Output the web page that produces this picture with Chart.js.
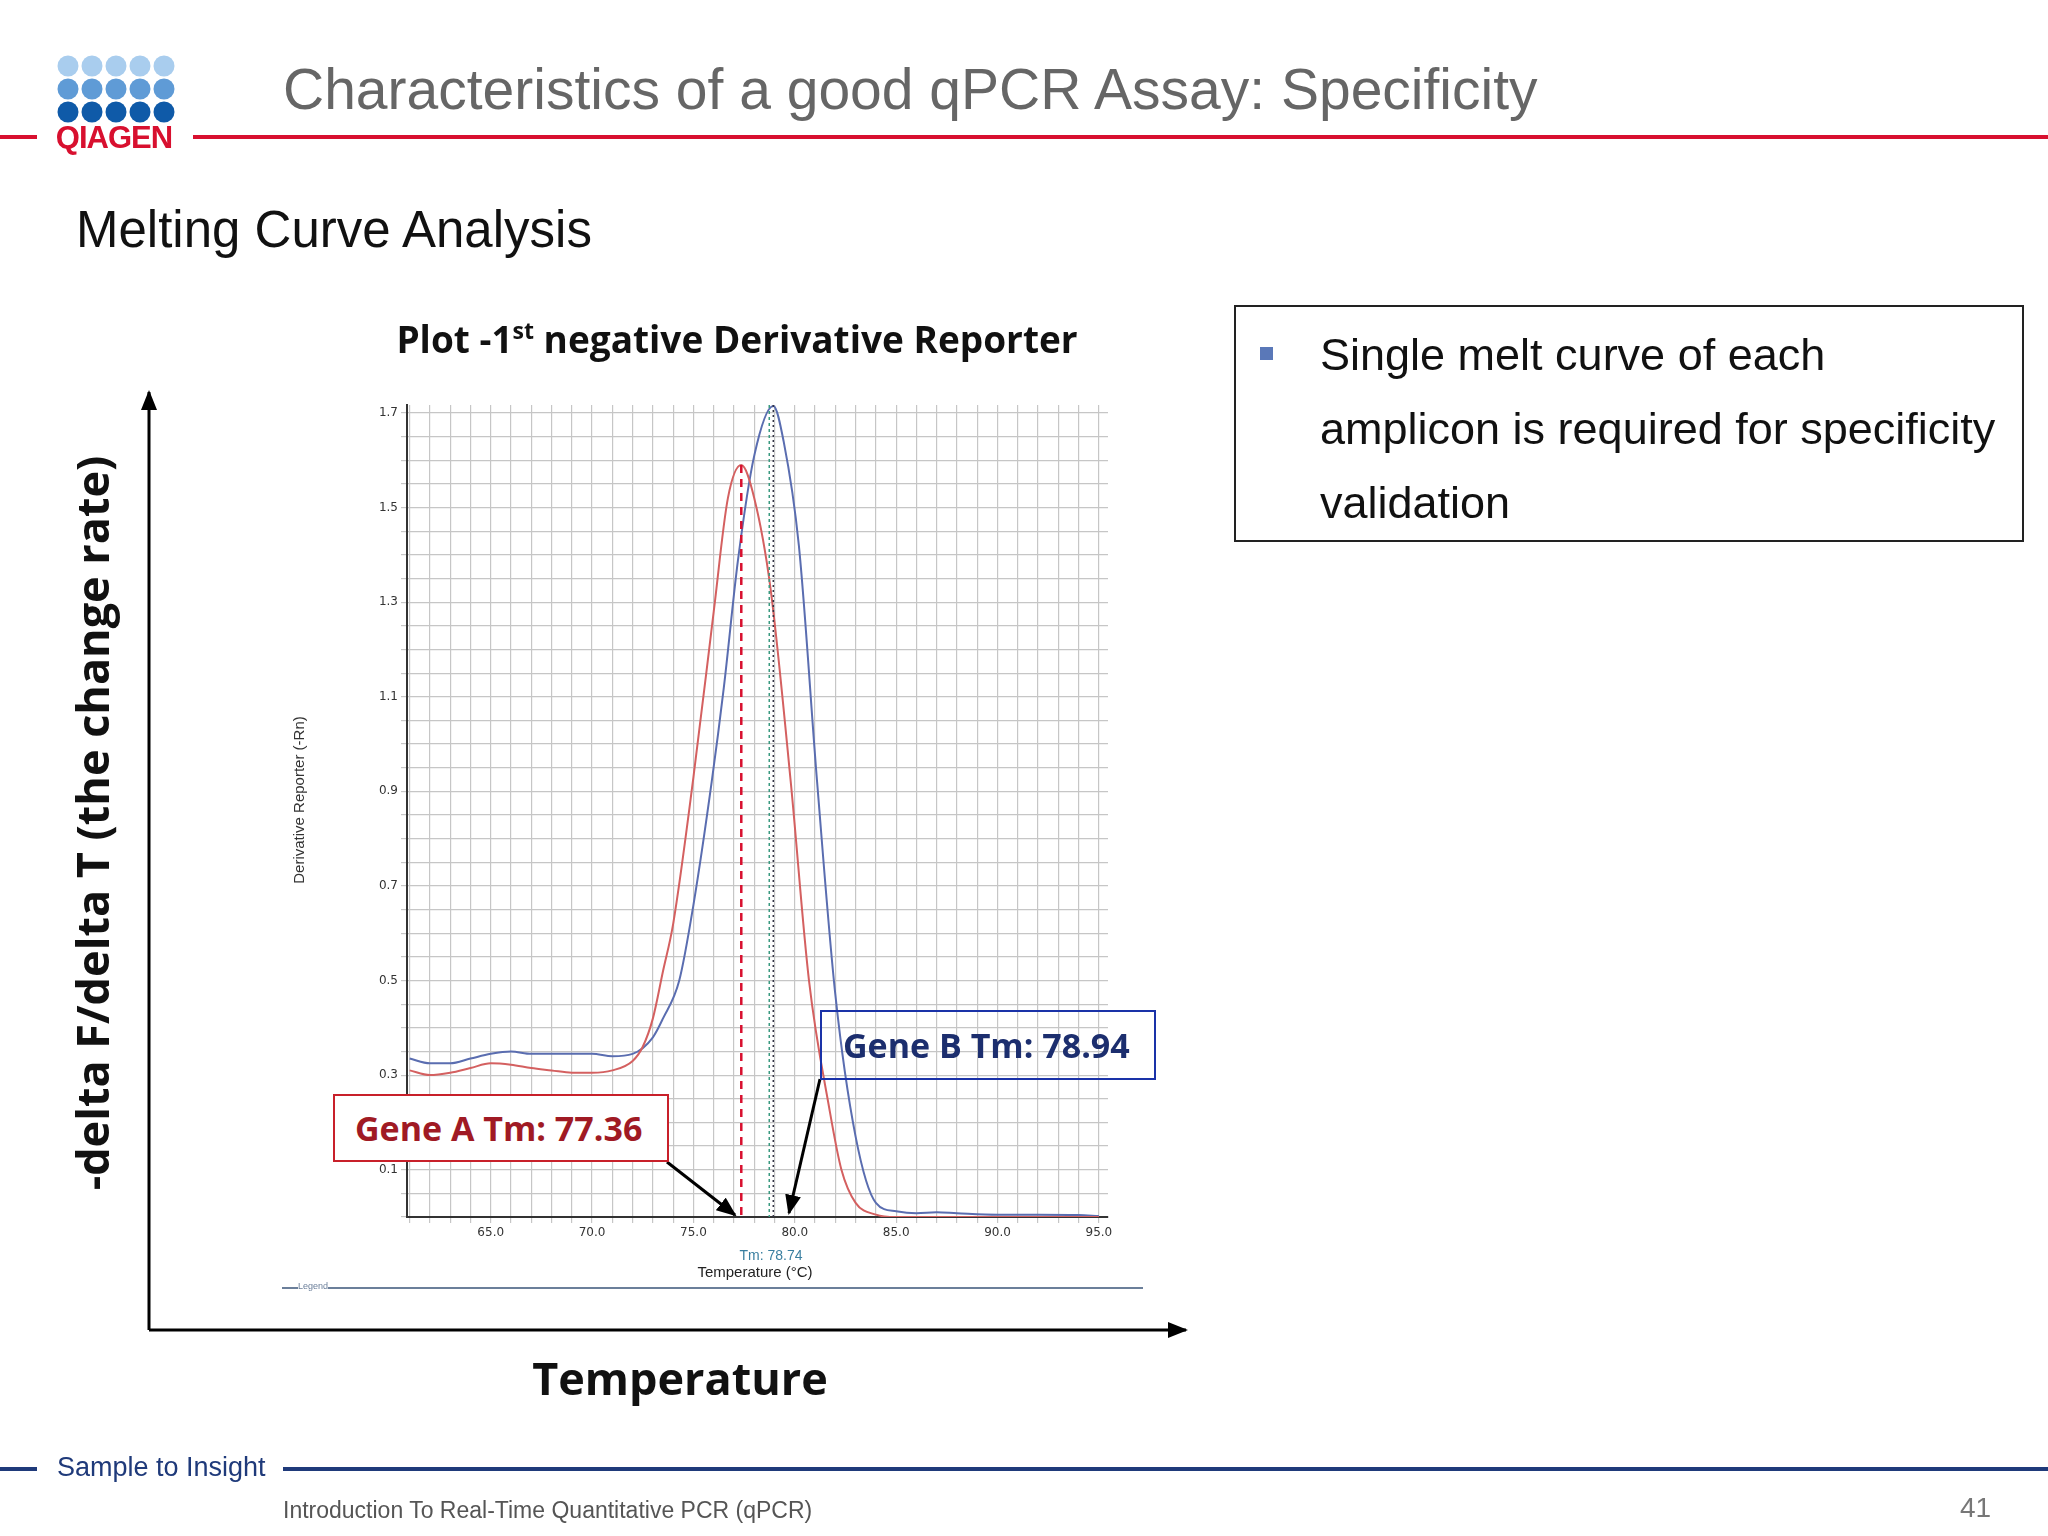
<!DOCTYPE html>
<html><head><meta charset="utf-8">
<script src="https://cdn.jsdelivr.net/npm/chart.js@4"></script>
<style>
body{margin:0;width:2048px;height:1536px;background:#fff;position:relative;overflow:hidden;font-family:Arial,"Liberation Sans",sans-serif}
.a{position:absolute;white-space:nowrap}
#c{position:absolute;left:0;top:0}
</style></head><body>
<canvas id="c" width="2048" height="1536"></canvas>
<svg class="a" style="left:0;top:0" width="2048" height="1536">
<defs><marker id="ar" markerUnits="userSpaceOnUse" markerWidth="20" markerHeight="16" refX="18" refY="8" orient="auto"><path d="M0,0 L20,8 L0,16 z" fill="#000"/></marker></defs>
<line x1="0" y1="137" x2="37" y2="137" stroke="#d8102f" stroke-width="4"/>
<line x1="193" y1="137" x2="2048" y2="137" stroke="#d8102f" stroke-width="4"/>
<line x1="0" y1="1469" x2="37" y2="1469" stroke="#1f3a7a" stroke-width="4"/>
<line x1="283" y1="1469" x2="2048" y2="1469" stroke="#1f3a7a" stroke-width="4"/>
<g id="logo"></g>
<line x1="149" y1="1330" x2="149" y2="392" stroke="#000" stroke-width="3" marker-end="url(#ar)"/>
<line x1="149" y1="1330" x2="1186" y2="1330" stroke="#000" stroke-width="3" marker-end="url(#ar)"/>
<line x1="282" y1="1288" x2="1143" y2="1288" stroke="#6b7f9a" stroke-width="2"/>
<line x1="667" y1="1162" x2="735" y2="1215" stroke="#000" stroke-width="3" marker-end="url(#ar)"/>
<line x1="820" y1="1079" x2="789" y2="1213" stroke="#000" stroke-width="3" marker-end="url(#ar)"/>
<rect x="1235" y="306" width="788" height="235" fill="none" stroke="#222" stroke-width="2"/>
<rect x="1260" y="347" width="13" height="13" fill="#5a78b8"/>
</svg>
<div class="a" style="left:283px;top:56px;font-size:57px;color:#666">Characteristics of a good qPCR Assay: Specificity</div>
<div class="a" style="left:76px;top:200px;font-size:51px;color:#111">Melting Curve Analysis</div>
<div class="a" style="left:737px;top:338px;transform:translate(-50%,-50%);font-size:37px;font-weight:bold;font-family:'Open Sans',sans-serif;color:#111">Plot -1<sup style="font-size:23px">st</sup> negative Derivative Reporter</div>
<div class="a" style="left:91px;top:823px;transform:translate(-50%,-50%) rotate(-90deg);font-size:45px;font-weight:bold;font-family:'Open Sans',sans-serif;color:#111">-delta F/delta T (the change rate)</div>
<div class="a" style="left:680px;top:1377px;transform:translate(-50%,-50%);font-size:45px;font-weight:bold;font-family:'Open Sans',sans-serif;color:#111">Temperature</div>
<div class="a" style="left:298px;top:800px;transform:translate(-50%,-50%) rotate(-90deg);font-size:15px;color:#333">Derivative Reporter (-Rn)</div>
<div class="a" style="left:771px;top:1255px;transform:translate(-50%,-50%);font-size:14px;color:#3a7fa0">Tm: 78.74</div>
<div class="a" style="left:755px;top:1271px;transform:translate(-50%,-50%);font-size:15px;color:#222">Temperature (°C)</div>
<div class="a" style="left:298px;top:1281px;font-size:9px;color:#6b7f9a;background:#fff">Legend</div>
<div class="a" style="left:333px;top:1094px;height:64px;border:2px solid #c8202a;background:#fff;font-family:'Open Sans',sans-serif;font-weight:bold;font-size:34px;color:#a01a24;line-height:64px;padding-left:20px;width:312px">Gene A Tm: 77.36</div>
<div class="a" style="left:820px;top:1010px;width:311px;height:66px;border:2px solid #1a32a8;font-family:'Open Sans',sans-serif;font-weight:bold;font-size:34px;color:#1c2e6e;line-height:66px;padding-left:21px">Gene B Tm: 78.94</div>
<div class="a" style="left:1320px;top:318px;font-size:45px;color:#111;line-height:74px">Single melt curve of each<br>amplicon is required for specificity<br>validation</div>
<div class="a" style="left:57px;top:1452px;font-size:27px;color:#1f3a7a">Sample to Insight</div>
<div class="a" style="left:283px;top:1497px;font-size:23px;color:#555">Introduction To Real-Time Quantitative PCR (qPCR)</div>
<div class="a" style="left:1960px;top:1492px;font-size:28px;color:#777">41</div>
<script>
(function(){
  const g=document.getElementById('logo');const cols=['#a9cdee','#5f9bd6','#0f5aa8'];
  let s='';for(let r=0;r<3;r++)for(let c=0;c<5;c++)s+=`<circle cx="${68+c*24}" cy="${66+r*23}" r="10.5" fill="${cols[r]}"/>`;
  s+=`<text x="114" y="148" text-anchor="middle" font-family="Arial" font-weight="bold" font-size="31" fill="#d8102f" letter-spacing="-1">QIAGEN</text>`;
  g.innerHTML=s;
})();
const tempsA=[61,62,63,64,65,66,67,68,69,70,71,72,72.5,73,73.5,74,75,76,76.7,77.36,78,78.8,79.8,80.7,81.7,82.3,83,84,85,87,90,95];
const geneA=[0.31,0.30,0.305,0.315,0.325,0.322,0.315,0.31,0.305,0.305,0.31,0.33,0.36,0.42,0.52,0.62,0.93,1.28,1.52,1.59,1.52,1.33,0.92,0.50,0.23,0.10,0.03,0.005,0,0,0,0];
const tempsB=[61,62,63,64,65,66,67,68,69,70,71,72,73,73.5,74.3,75,75.9,76.5,77.2,78,78.94,79.45,80.2,81.1,82,83,84,85,86,87,88,90,92,94,95];
const geneB=[0.335,0.325,0.325,0.335,0.345,0.35,0.345,0.345,0.345,0.345,0.34,0.345,0.38,0.42,0.50,0.66,0.92,1.12,1.39,1.61,1.715,1.64,1.42,0.92,0.47,0.17,0.03,0.012,0.008,0.01,0.008,0.005,0.005,0.004,0.002];
const tmA=77.36, tmB=78.94, tmCursor=78.74;
const vlines={id:'vl',afterDatasetsDraw(ch){const x=ch.scales.x,a=ch.chartArea,c=ch.ctx;
  [[tmA,'#d8102f',[8,6],2.5],[tmCursor,'#3a9a80',[3,3],1.5],[tmB,'#334',[2,3],1.5]].forEach(([v,col,d,w])=>{
  c.save();c.strokeStyle=col;c.setLineDash(d);c.lineWidth=w;c.beginPath();const px=x.getPixelForValue(v);c.moveTo(px,ch.scales.y.getPixelForValue(v===tmA?1.59:1.717));c.lineTo(px,a.bottom);c.stroke();c.restore();});}};
new Chart(document.getElementById('c'),{type:'line',
 data:{datasets:[
  {label:'Gene A',data:tempsA.map((t,i)=>({x:t,y:geneA[i]})),borderColor:'#d46060',borderWidth:2,pointRadius:0,cubicInterpolationMode:'monotone'},
  {label:'Gene B',data:tempsB.map((t,i)=>({x:t,y:geneB[i]})),borderColor:'#5a6db0',borderWidth:2,pointRadius:0,cubicInterpolationMode:'monotone'}]},
 options:{responsive:false,animation:false,devicePixelRatio:1,
  layout:{padding:{left:357,top:405,right:940,bottom:289}},
  plugins:{legend:{display:false},tooltip:{enabled:false}},
  scales:{
   x:{type:'linear',min:60.87,max:95.45,afterFit(s){s.height=30},
      ticks:{stepSize:1,includeBounds:false,autoSkip:false,maxRotation:0,color:'#333',font:{size:12,family:'DejaVu Sans'},callback:v=>(Math.abs(v%5)<1e-6)?v.toFixed(1):''},
      grid:{color:'#c6c6c6',lineWidth:1.2,tickLength:6},border:{color:'#333',width:2}},
   y:{type:'linear',min:0,max:1.717,afterFit(s){s.width=50},
      ticks:{stepSize:0.05,includeBounds:false,autoSkip:false,color:'#333',font:{size:12,family:'DejaVu Sans'},callback:v=>{const k=(v-0.1)/0.2;return Math.abs(k-Math.round(k))<1e-6&&v>0.05?v.toFixed(1):''}},
      grid:{color:'#c6c6c6',lineWidth:1.2,tickLength:6},border:{color:'#333',width:2}}}},
 plugins:[vlines]});
</script>
</body></html>
